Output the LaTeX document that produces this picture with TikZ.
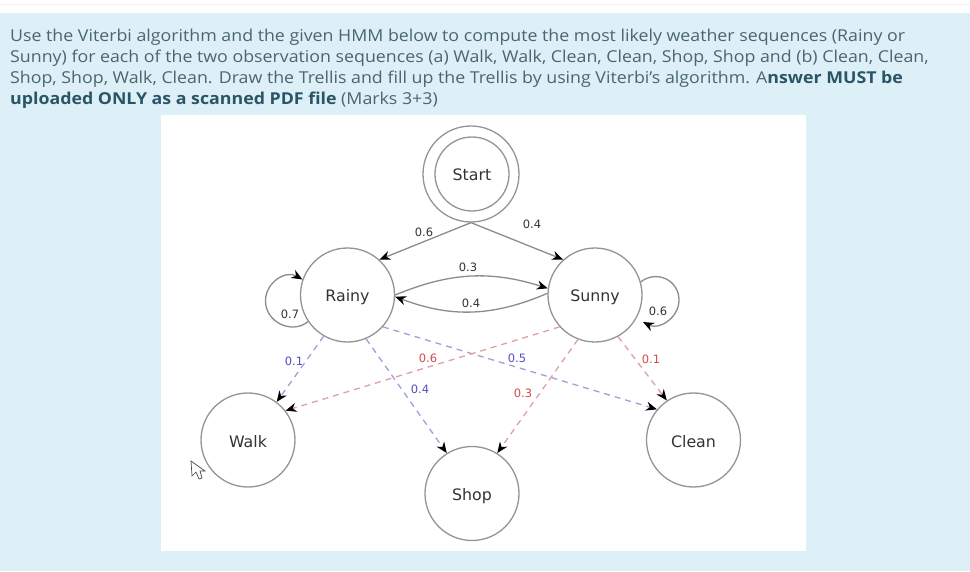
\documentclass[tikz,border=0pt]{standalone}
\usepackage{fontspec}
\setmainfont{Open Sans}[FakeStretch=1.085]
\newfontfamily\dejavu{DejaVu Sans}
\usetikzlibrary{arrows.meta}
\definecolor{panel}{HTML}{DDEFF7}
\definecolor{bodytext}{HTML}{4A6670}
\definecolor{boldtext}{HTML}{2A5566}
\definecolor{blueedge}{HTML}{A0A0DC}
\definecolor{rededge}{HTML}{E0A0A0}
\definecolor{bluelab}{HTML}{5050C8}
\definecolor{redlab}{HTML}{D84848}
\tikzset{
  state/.style={circle,draw=black!42,line width=1.3pt,minimum size=94pt,inner sep=0pt,text height=14pt,text depth=0pt,font=\dejavu\fontsize{15.8}{18}\selectfont,text=black!80},
  prob/.style={inner sep=0pt,font=\dejavu\fontsize{11.5}{14}\selectfont,text=black!80},
  line/.style={inner sep=0pt,anchor=base west,font=\fontsize{16.38}{19}\selectfont,text=bodytext},
  tip/.style={-{Stealth[length=11pt,width=9pt,inset=3.5pt,color=black]}},
  trans/.style={tip,draw=black!45,line width=1.3pt},
  emitb/.style={tip,draw=blueedge,dash pattern=on 6pt off 5pt,line width=1.3pt},
  emitr/.style={tip,draw=rededge,dash pattern=on 6pt off 5pt,line width=1.3pt}
}
\begin{document}
\begin{tikzpicture}[x=1pt,y=1pt]
  \useasboundingbox (0,0) rectangle (970,571);

  % page and white image panel
  \fill[panel] (0,0) rectangle (970,558);
  \fill[white] (0,558) rectangle (970,571);
  \fill[black!5] (0,566) rectangle (970,567);
  \fill[white] (161,20) rectangle (806,456);

  %-----------------------------
  % question text
  \node[line] (l1) at (10,529) {Use the Viterbi algorithm and the given HMM below to compute the most likely weather sequences (Rainy or};
  \node[line] (l2) at (10,508) {Sunny) for each of the two observation sequences (a) Walk, Walk, Clean, Clean, Shop, Shop and (b) Clean, Clean,};
  \node[line] (l3) at (10,487) {Shop, Shop, Walk, Clean. Draw the Trellis and fill up the Trellis by using Viterbi's algorithm. A\textbf{\color{boldtext}nswer MUST be}};
  \node[line] (l4) at (10,466) {\textbf{\color{boldtext}uploaded ONLY as a scanned PDF file} (Marks 3+3)};

  %-----------------------------
  % states
  \node[state,minimum size=96pt] (Start) at (471,397) {};
  \node[state,minimum size=74pt] (StartIn) at (472,397) {Start};
  \node[state] (Rainy) at (347.5,276) {Rainy};
  \node[state] (Sunny) at (595,276) {Sunny};
  \node[state] (Walk) at (248,131) {Walk};
  \node[state] (Shop) at (472,77.5) {Shop};
  \node[state] (Clean) at (693.5,131) {Clean};
  \coordinate (RainyLoop) at (265.5,270);
  \coordinate (SunnyLoop) at (679,271);
  \coordinate (SunnyEnd) at (643,249);

  %-----------------------------
  % transitions
  \draw[trans] (Start.south) -- (Rainy.48);
  \draw[trans] (Start.south) -- (Sunny.132);
  \draw[trans] (Rainy.0) to[bend left=20] (Sunny.172);
  \draw[trans] (Sunny.178) to[bend left=22] (Rainy.-2);
  \draw[trans] (Rainy.214) to[out=219,in=270,distance=21pt] (RainyLoop)
    to[out=90,in=150,distance=19pt] (Rainy.161);
  \draw[trans] (Sunny.16) to[out=38,in=90,distance=20pt] (SunnyLoop)
    to[out=-90,in=-27,distance=18pt] (SunnyEnd);

  %-----------------------------
  % emissions
  \draw[emitb] (Rainy.240) -- (Walk.53);
  \draw[emitb] (Rainy.-67) -- (Shop.122);
  \draw[emitb] (Rainy.-42) -- (Clean.140);
  \draw[emitr] (Sunny.222) -- (Walk.38);
  \draw[emitr] (Sunny.249) -- (Shop.58);
  \draw[emitr] (Sunny.-61) -- (Clean.124);

  %-----------------------------
  % probabilities
  \node[prob] (pSR) at (424,339) {0.6};
  \node[prob] (pSS) at (532,347) {0.4};
  \node[prob] (pRS) at (468,304) {0.3};
  \node[prob] (pSRb) at (471,268) {0.4};
  \node[prob] (pRR) at (290,257) {0.7};
  \node[prob] (pSSl) at (658,260) {0.6};
  \node[prob,text=bluelab] (pRW) at (294,210) {0.1};
  \node[prob,text=redlab] (pSW) at (428,213) {0.6};
  \node[prob,text=bluelab] (pRC) at (517,213) {0.5};
  \node[prob,text=bluelab] (pRH) at (420,182) {0.4};
  \node[prob,text=redlab] (pSH) at (523,178) {0.3};
  \node[prob,text=redlab] (pSC) at (651,212) {0.1};

  %-----------------------------
  % mouse pointer
  \draw[black!70,fill=white,line width=0.7pt] (191,110) -- (192,95) -- (196,99) -- (199,92)
    -- (202,93) -- (200,100) -- (205,100) -- cycle;
\end{tikzpicture}
\end{document}
